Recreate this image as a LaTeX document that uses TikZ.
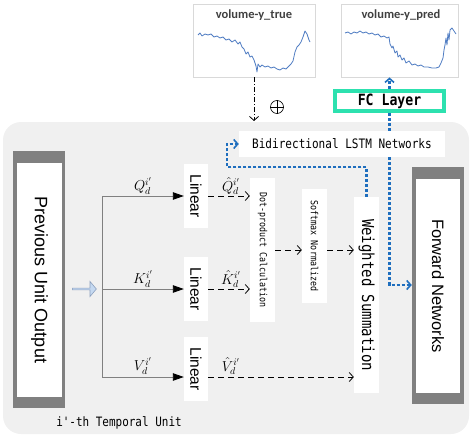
\documentclass[tikz,border=0pt]{standalone}
\usepackage{fontspec}
\usetikzlibrary{arrows.meta,shapes.arrows}
\newfontfamily\arialf{Liberation Sans}
\newfontfamily\monoc[FakeStretch=0.85]{DejaVu Sans Mono}
\newfontfamily\carl{Carlito}
\definecolor{bgray}{gray}{0.94}
\definecolor{fgray}{RGB}{128,128,128}
\definecolor{lblue}{RGB}{30,110,190}
\definecolor{tealc}{RGB}{45,225,175}
\definecolor{chartline}{RGB}{80,125,195}
\definecolor{chartbd}{RGB}{217,217,217}
\definecolor{arrowfill}{RGB}{197,217,241}
\definecolor{arrowdraw}{RGB}{140,160,190}
\definecolor{titlec}{RGB}{64,64,64}
\tikzset{
  wbox/.style={fill=white,draw=none,inner sep=0pt},
  gbox/.style={fill=fgray,draw=none,inner sep=0pt},
  chartbox/.style={fill=white,draw=chartbd,line width=0.8pt,inner sep=0pt},
  charttitle/.style={font=\carl\bfseries\fontsize{12.5}{13}\selectfont,text=titlec,inner sep=0pt},
  chartplot/.style={draw=chartline,line width=0.8pt,line join=round},
  garrow/.style={draw=fgray,line width=0.9pt,-{Triangle[length=11pt,width=7.5pt,fill=black,color=black]}},
  gline/.style={draw=fgray,line width=0.9pt},
  darrow/.style={draw=black,line width=0.8pt,dash pattern=on 6pt off 4pt,-{Straight Barb[length=4pt,width=9pt]}},
  bdot/.style={draw=lblue,line width=2.2pt,dash pattern=on 3pt off 2pt},
  barrowtip/.style={-{Straight Barb[length=4pt,width=9pt,line width=1.6pt]}},
  arialtxt/.style={font=\arialf\fontsize{#1}{#1}\selectfont,rotate=-90,inner sep=0pt},
  monotxt/.style={font=\monoc\fontsize{#1}{#1}\selectfont,rotate=-90,inner sep=0pt},
  mathlbl/.style={font=\fontsize{14}{14}\selectfont,inner sep=0pt}
}
\begin{document}
\begin{tikzpicture}[x=1pt,y=-1pt]
\useasboundingbox (0,0) rectangle (474,439);
% background panel
\node[fill=bgray,draw=none,rounded corners=18pt,minimum width=466pt,minimum height=312pt,inner sep=0pt] (bg) at (236,278) {};
% charts
\node[chartbox,minimum width=122pt,minimum height=73pt] (c1) at (254,40.5) {};
\node[charttitle] (t1) at (254,15) {volume-y\_true};
\draw[chartplot] (198,35) -- (200,33) -- (202,36) -- (205,34) -- (208,35) -- (211,34) -- (214,37) -- (217,36) -- (220,38) -- (223,37) -- (226,40) -- (229,39) -- (232,42) -- (235,40) -- (238,44) -- (240,42) -- (242,47) -- (244,49) -- (246,54) -- (248,52) -- (250,57) -- (252,56) -- (254,60) -- (256,66) -- (257,72) -- (258,64) -- (260,67) -- (262,65) -- (265,67) -- (268,66) -- (271,68) -- (274,67) -- (277,69) -- (280,70) -- (283,68) -- (286,69) -- (289,66) -- (291,64) -- (293,61) -- (295,52) -- (297,47) -- (299,45) -- (301,42) -- (303,37) -- (305,31) -- (307,34) -- (309,40) -- (310,42);
\node[chartbox,minimum width=117pt,minimum height=73pt] (c2) at (399.5,40.5) {};
\node[charttitle] (t2) at (401,15) {volume-y\_pred};
\draw[chartplot] (345,33) -- (348,32) -- (351,34) -- (354,32) -- (357,33) -- (360,31) -- (363,33) -- (366,32) -- (369,34) -- (372,33) -- (375,35) -- (378,34) -- (381,37) -- (384,36) -- (387,38) -- (389,37) -- (390,44) -- (392,48) -- (393,46) -- (395,53) -- (397,51) -- (398,57) -- (400,55) -- (402,60) -- (404,58) -- (406,63) -- (409,61) -- (412,65) -- (415,64) -- (418,66) -- (421,65) -- (424,67) -- (428,67) -- (432,68) -- (436,68) -- (439,67) -- (441,63) -- (443,58) -- (444,50) -- (445,45) -- (446,38) -- (447,45) -- (448,33) -- (449,40) -- (450,30) -- (452,28) -- (454,31) -- (456,34);
% oplus and dash-dot arrow
\node[circle,draw=black,line width=0.6pt,minimum size=13pt,inner sep=0pt] (op) at (277,107) {};
\draw[line width=0.6pt] (op.north) -- (op.south) (op.west) -- (op.east);
\coordinate (ddend) at (254,121);
\draw[line width=0.8pt,dash pattern=on 5pt off 2pt on 1pt off 2pt,-{Straight Barb[length=4pt,width=9pt]}] (c1.south) -- (ddend);
% FC layer
\node[fill=white,draw=tealc,line width=4pt,minimum width=109pt,minimum height=20pt,inner sep=0pt,font=\monoc\bfseries\fontsize{15.5}{15.5}\selectfont] (fc) at (389.5,101) {FC Layer};
% LSTM
\node[wbox,minimum width=206pt,minimum height=26pt,font=\monoc\fontsize{13}{13}\selectfont] (lstm) at (342,144) {Bidirectional LSTM Networks};
% previous unit output
\node[gbox,minimum width=52pt,minimum height=257pt] (prev) at (39,279.5) {};
\node[wbox,minimum width=45pt,minimum height=234pt] (previn) at (39.5,280) {};
\node[arialtxt=18] (prevtxt) at (previn.center) {Previous Unit Output};
% block arrow
\node[single arrow,fill=arrowfill,draw=arrowdraw,line width=0.6pt,minimum height=24pt,minimum width=15pt,single arrow head extend=2.5pt,single arrow tip angle=100,inner sep=0pt] (barrow) at (84,289) {};
% linear boxes
\node[wbox,minimum width=24pt,minimum height=64pt] (linq) at (196,196) {};
\node[arialtxt=15.5] (linqt) at (linq.center) {Linear};
\node[wbox,minimum width=24pt,minimum height=64pt] (link) at (196,289) {};
\node[arialtxt=15.5] (linkt) at (link.center) {Linear};
\node[wbox,minimum width=24pt,minimum height=64pt] (linv) at (196,369) {};
\node[arialtxt=15.5] (linvt) at (linv.center) {Linear};
% trunk
\coordinate (tq) at (102,196);
\coordinate (tk) at (102,289);
\coordinate (tv) at (102,377);
\draw[gline] (tq) -- (tv);
\draw[garrow] (tq) -- (linq.west);
\draw[garrow] (tk) -- (link.west);
\draw[garrow] (tv) -- (linv.west |- tv);
\node[mathlbl] (lq) at (143,186) {$Q_d^{i'}$};
\node[mathlbl] (lk) at (143,279) {$K_d^{i'}$};
\node[mathlbl] (lv) at (143,366) {$V_d^{i'}$};
% dot product, softmax, weighted
\node[wbox,minimum width=25pt,minimum height=144pt] (dot) at (262.5,250) {};
\node[monotxt=9.8] (dott) at (dot.center) {Dot-product Calculation};
\node[wbox,minimum width=25pt,minimum height=114pt] (soft) at (314.5,246) {};
\node[monotxt=9.8] (softt) at (soft.center) {Softmax Normalized};
\node[wbox,minimum width=25pt,minimum height=196pt] (ws) at (366.5,295) {};
\node[monotxt=16.5] (wst) at (ws.center) {Weighted Summation};
% dashed arrows
\draw[darrow] (linq.east) -- (dot.west |- linq.east);
\draw[darrow] (link.east) -- (dot.west |- link.east);
\draw[darrow] (linv.east |- tv) -- (ws.west |- tv);
\draw[darrow] (dot.east) -- (soft.west |- dot.east);
\draw[darrow] (soft.east |- dot.east) -- (ws.west |- dot.east);
\node[mathlbl] (hq) at (231,186) {$\hat{Q}_d^{i'}$};
\node[mathlbl] (hk) at (231,279) {$\hat{K}_d^{i'}$};
\node[mathlbl] (hv) at (231,366) {$\hat{V}_d^{i'}$};
% forward networks
\node[gbox,minimum width=52pt,minimum height=237pt] (fwd) at (438,285.5) {};
\node[wbox,minimum width=44pt,minimum height=214pt] (fwdin) at (438,286) {};
\node[arialtxt=16.5] (fwdt) at (fwdin.center) {Forward Networks};
% blue dotted connectors
\coordinate (b1) at (227,167);
\coordinate (b2) at (391,285);
\draw[bdot,barrowtip] (ws.north) |- (b1) |- (lstm.west);
\draw[bdot] (fc.south) -- (fc.south |- lstm.north);
\draw[bdot,barrowtip] (fc.north) -- (fc.north |- c2.south);
\draw[bdot,barrowtip] (fc.south |- lstm.south) |- (fwd.west |- b2);
% caption
\node[font=\monoc\fontsize{12.9}{12.9}\selectfont,inner sep=0pt] (cap) at (119,423) {i'-th Temporal Unit};
\end{tikzpicture}
\end{document}
